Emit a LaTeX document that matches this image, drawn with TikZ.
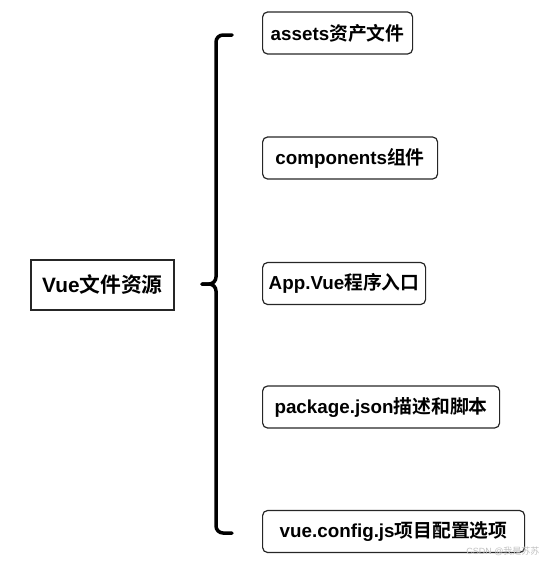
\documentclass[tikz,border=0pt]{standalone}
\usepackage{fontspec}
\setmainfont{Liberation Sans}
\newfontfamily\cjk{Noto Sans CJK SC}[BoldFont={* Bold}]
\usetikzlibrary{positioning}
\begin{document}
\begin{tikzpicture}[x=1pt,y=-1pt,
  leaf/.style={draw=black!85, line width=1.2pt, rounded corners=5pt, minimum height=42pt, inner xsep=4pt, font=\fontsize{18.8}{20}\selectfont\bfseries, anchor=west},
  rootbox/.style={draw=black!85, line width=1.2pt, minimum width=143pt, minimum height=50pt, font=\fontsize{20.8}{22}\selectfont\bfseries},
  brace/.style={line width=3.5pt, line cap=round, rounded corners=7pt}]
\useasboundingbox (0,0) rectangle (545,565);
\node[rootbox] (root) at (102.5,285) {Vue{\cjk 文件资源}};
\node[leaf, minimum width=150pt] (a) at (262,33) {assets{\cjk 资产文件}};
\node[leaf, minimum width=175pt] (b) at (262,158) {components{\cjk 组件}};
\node[leaf, minimum width=163pt] (c) at (262,283.5) {App.Vue{\cjk 程序入口}};
\node[leaf, minimum width=237pt] (d) at (262,407) {package.json{\cjk 描述和脚本}};
\node[leaf, minimum width=262pt] (e) at (262,531.5) {vue.config.js{\cjk 项目配置选项}};
\coordinate (top) at (232,35);
\coordinate (bot) at (232,533);
\coordinate (tip) at (202,284);
\draw[brace] (top) -- (216,35) -- (216,284) -- (tip);
\draw[brace] (tip) -- (216,284) -- (216,533) -- (bot);
\node[text=black!25, font=\fontsize{9}{10}\selectfont, anchor=east] (wm) at (543,551) {CSDN @{\cjk 我是苏苏}};
\end{tikzpicture}
\end{document}
